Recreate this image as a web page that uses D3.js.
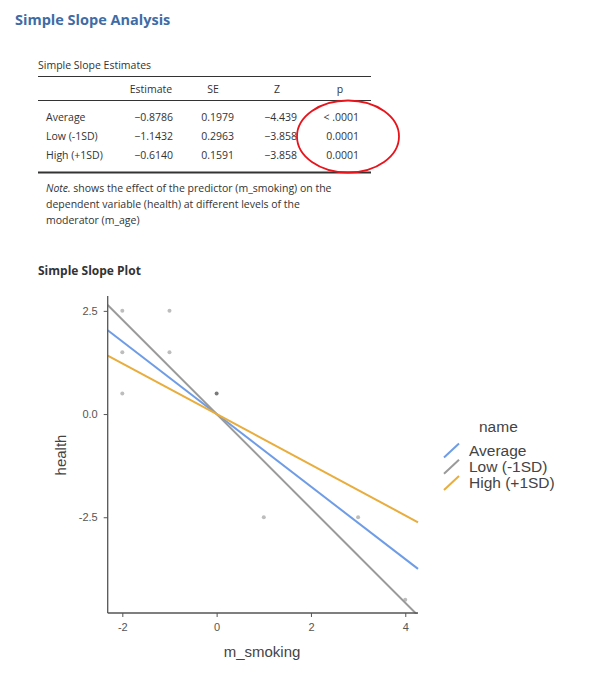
<!DOCTYPE html>
<html>
<head>
<meta charset="utf-8">
<script src="https://cdn.jsdelivr.net/npm/d3@7"></script>
<style>
  body { margin: 0; background: #fff; }
</style>
</head>
<body>
<svg id="chart" width="604" height="677"></svg>
<script>
// table data
let tableTitle = 'Simple Slope Estimates';
let headers = ['Estimate', 'SE', 'Z', 'p'];
let rowNames = ['Average', 'Low (-1SD)', 'High (+1SD)'];
let estimates = ['\u22120.8786', '\u22121.1432', '\u22120.6140'];
let ses = ['0.1979', '0.2963', '0.1591'];
let zs = ['\u22124.439', '\u22123.858', '\u22123.858'];
let ps = ['< .0001', '0.0001', '0.0001'];
let noteLines = ['shows the effect of the predictor (m_smoking) on the',
                 'dependent variable (health) at different levels of the',
                 'moderator (m_age)'];

// plot data
let seriesNames = ['Average', 'Low (-1SD)', 'High (+1SD)'];
let slopes = [-0.8786, -1.1432, -0.6140];
let pointX = [-2, -1, -2, -1, -2, 0, 1, 3, 4];
let pointY = [2.5, 2.5, 1.5, 1.5, 0.5, 0.5, -2.5, -2.5, -4.5];
let pointN = [1, 1, 1, 1, 1, 3, 1, 1, 1];   // overlapping points look darker
let xTicks = [-2, 0, 2, 4];
let yTicks = [2.5, 0, -2.5];

let svg = d3.select('#chart');
let tfont = '"Open Sans", "Noto Sans", sans-serif';

// 标题
svg.append('text').attr('x', 15).attr('y', 25)
    .attr('font-family', tfont).attr('font-weight', 'bold').attr('font-size', 14.5)
    .attr('fill', '#3e6ca6').text('Simple Slope Analysis');

// 表格
let tg = svg.append('g').attr('font-family', tfont).attr('font-size', 10.5).attr('fill', '#333');
tg.append('text').attr('x', 38).attr('y', 69).text(tableTitle);
tg.append('line').attr('x1', 38).attr('x2', 371).attr('y1', 76.5).attr('y2', 76.5)
    .attr('stroke', '#333').attr('stroke-width', 1);
tg.append('line').attr('x1', 38).attr('x2', 371).attr('y1', 100.5).attr('y2', 100.5)
    .attr('stroke', '#333').attr('stroke-width', 1);
tg.append('line').attr('x1', 38).attr('x2', 371).attr('y1', 172.5).attr('y2', 172.5)
    .attr('stroke', '#333').attr('stroke-width', 2);

let headX = [151, 213, 277, 340];
tg.selectAll('text.head').data(headers).enter().append('text')
    .attr('class', 'head')
    .attr('x', (d, i) => headX[i]).attr('y', 93)
    .attr('text-anchor', 'middle').text(d => d);

let rowY = [121, 140, 159];
let colRight = [173, 234, 297, 359];
let cols = [estimates, ses, zs, ps];
tg.selectAll('text.rname').data(rowNames).enter().append('text')
    .attr('class', 'rname').attr('x', 46).attr('y', (d, i) => rowY[i]).text(d => d);
cols.forEach(function (col, c) {
    tg.selectAll('text.c' + c).data(col).enter().append('text')
        .attr('class', 'c' + c)
        .attr('x', colRight[c]).attr('y', (d, i) => rowY[i])
        .attr('text-anchor', 'end').text(d => d);
});

let note = tg.append('text').attr('x', 46).attr('y', 192);
note.append('tspan').attr('font-style', 'italic').text('Note.');
note.append('tspan').text(' ' + noteLines[0]);
tg.selectAll('text.note').data(noteLines.slice(1)).enter().append('text')
    .attr('class', 'note').attr('x', 46).attr('y', (d, i) => 208 + i * 16).text(d => d);

// 红色圈
svg.append('ellipse').attr('cx', 348).attr('cy', 136.5).attr('rx', 51).attr('ry', 36)
    .attr('fill', 'none').attr('stroke', '#e8141c').attr('stroke-width', 1.8);

// 图标题
svg.append('text').attr('x', 38).attr('y', 275)
    .attr('font-family', tfont).attr('font-weight', 'bold').attr('font-size', 12)
    .attr('fill', '#333').text('Simple Slope Plot');

// 比例尺
let x = d3.scaleLinear().domain([-2.31, 4.27]).range([107.7, 418]);
let y = d3.scaleLinear().domain([-4.82, 2.86]).range([613, 296]);
let pfont = '"Liberation Sans", Arial, sans-serif';

let colors = ['#6e9ce6', '#9a9a9a', '#e8ad3c'];

// 点
let pts = pointX.map((d, i) => ({x: d, y: pointY[i], n: pointN[i]}));
svg.append('g').selectAll('circle').data(pts).enter().append('circle')
    .attr('cx', d => x(d.x)).attr('cy', d => y(d.y)).attr('r', 2)
    .attr('fill', d => d.n > 1 ? '#7a7a7a' : '#bdbdbd');

// 线
let clip = svg.append('clipPath').attr('id', 'plotclip');
clip.append('rect').attr('x', 107.7).attr('y', 290).attr('width', 320).attr('height', 324);
let lineG = svg.append('g').attr('clip-path', 'url(#plotclip)');
let xd = x.domain();
slopes.forEach(function (b, i) {
    lineG.append('line')
        .attr('x1', x(xd[0])).attr('y1', y(b * xd[0]))
        .attr('x2', x(xd[1])).attr('y2', y(b * xd[1]))
        .attr('stroke', colors[i]).attr('stroke-width', 2);
});

// 坐标轴 (ggplot 用普通连字符作负号)
let xAxis = svg.append('g').attr('transform', 'translate(0,613)')
    .call(d3.axisBottom(x).tickValues(xTicks).tickSize(4).tickPadding(6)
        .tickFormat(d => String(d)));
let yAxis = svg.append('g').attr('transform', 'translate(107.7,0)')
    .call(d3.axisLeft(y).tickValues(yTicks).tickSize(4).tickPadding(6)
        .tickFormat(d => d.toFixed(1)));
[xAxis, yAxis].forEach(function (a) {
    a.select('.domain').attr('stroke', '#555').attr('stroke-width', 1.3);
    a.selectAll('.tick line').attr('stroke', '#555');
    a.selectAll('.tick text').attr('font-family', pfont).attr('font-size', 11).attr('fill', '#555');
});
xAxis.select('.domain').attr('d', 'M107.7,0H418');
yAxis.select('.domain').attr('d', 'M0,296V613');

svg.append('text').attr('x', 262).attr('y', 657).attr('text-anchor', 'middle')
    .attr('font-family', pfont).attr('font-size', 15).attr('fill', '#444').text('m_smoking');
svg.append('text').attr('transform', 'translate(66,455) rotate(-90)').attr('text-anchor', 'middle')
    .attr('font-family', pfont).attr('font-size', 15).attr('fill', '#444').text('health');

// 图例
let lg = svg.append('g').attr('font-family', pfont).attr('font-size', 15.5).attr('fill', '#444');
lg.append('text').attr('x', 479).attr('y', 432).text('name');
seriesNames.forEach(function (n, i) {
    let cy = 450.5 + i * 16.2;
    lg.append('line').attr('x1', 444).attr('y1', cy + 7).attr('x2', 459).attr('y2', cy - 7)
        .attr('stroke', colors[i]).attr('stroke-width', 2);
    lg.append('text').attr('x', 469).attr('y', cy + 5.5).text(n);
});
</script>
</body>
</html>
